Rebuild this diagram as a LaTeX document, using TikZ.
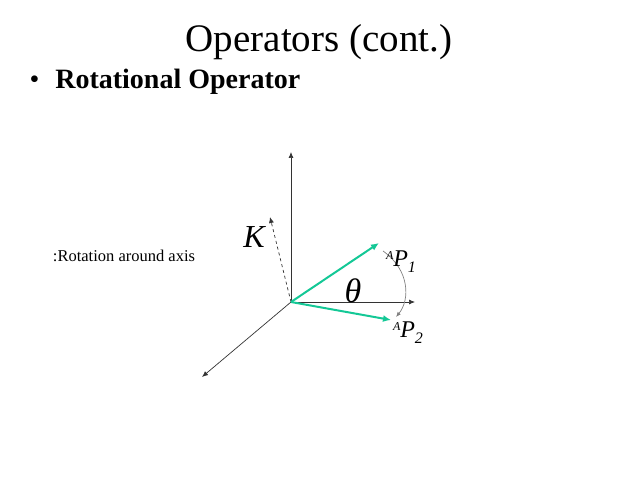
\documentclass[tikz,border=0pt]{standalone}
\usepackage{fontspec}
\setmainfont{Liberation Serif}
\usetikzlibrary{arrows.meta}
\begin{document}
\begin{tikzpicture}[x=1pt,y=-1pt,
  ax/.style={draw=black!80,line width=0.7pt,-{Latex[length=6pt,width=5pt]}},
  vec/.style={draw={rgb,255:red,20;green,200;blue,150},line width=2pt,-{Latex[length=8pt,width=7pt]}}]
\useasboundingbox (0,0) rectangle (638,478);
\node (title) at (319,42) {\fontsize{39}{44}\selectfont Operators (cont.)};
\node[anchor=west] (bul) at (26,82) {\fontsize{28}{32}\selectfont •\hspace{16pt}\textbf{Rotational Operator}};
\node (rot) at (124,256) {\fontsize{16.5}{18}\selectfont :Rotation around axis};
\coordinate (o) at (291,302);
\coordinate (z) at (291,152);
\coordinate (x) at (415,302);
\coordinate (y) at (202,377);
\coordinate (k) at (270,217);
\coordinate (p1) at (379,243);
\coordinate (p2) at (391,320);
\draw[ax] (o) -- (z);
\draw[ax] (o) -- (x);
\draw[ax] (o) -- (y);
\draw[ax,dashed] (o) -- (k);
\draw[vec] (o) -- (p1);
\draw[vec] (o) -- (p2);
\draw[gray,line width=0.7pt,-{Latex[length=5pt,width=4pt]}] (383,251) .. controls (410,270) and (410,300) .. (396,317);
\node (K) at (254,237) {\fontsize{32}{34}\selectfont\itshape K};
\node (th) at (353,291) {\fontsize{34}{36}\selectfont\itshape θ};
\node (P1) at (401,262) {\fontsize{24}{26}\selectfont\itshape \raisebox{7pt}{\fontsize{12}{12}\selectfont A}P\raisebox{-6pt}{\fontsize{16}{16}\selectfont 1}};
\node (P2) at (408,333) {\fontsize{24}{26}\selectfont\itshape \raisebox{7pt}{\fontsize{12}{12}\selectfont A}P\raisebox{-6pt}{\fontsize{16}{16}\selectfont 2}};
\end{tikzpicture}
\end{document}
